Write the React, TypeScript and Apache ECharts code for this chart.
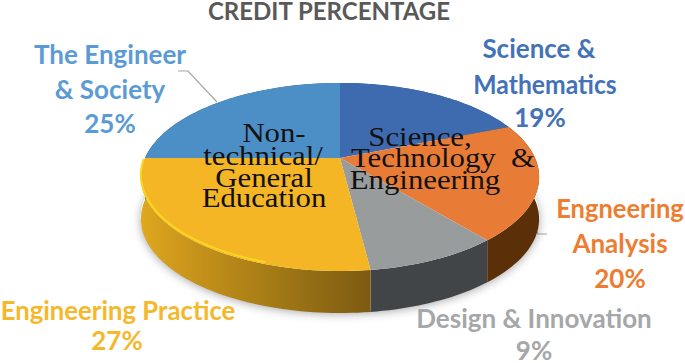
import React, { useEffect, useRef } from "react";
import * as echarts from "echarts";

const titleText = "CREDIT PERCENTAGE";
const categories = ["Science & Mathematics", "Engineering Analysis", "Design & Innovation", "Engineering Practice", "The Engineer & Society"];
const values = [19, 20, 9, 27, 25];
const topColors = ["#3e6bb0", "#e87c37", "#989c9d", "#f4b624", "#4c8ec6"];
const labelColors = ["#4472b8", "#ed7d31", "#a5a7a8", "#f5b82a", "#5b9bd5"];
const labelLines = [
  ["Science &", "Mathematics"],
  ["Engneering", "Analysis"],
  ["Design & Innovation"],
  ["Engineering Practice"],
  ["The Engineer", "& Society"],
];

const CX = 340, CY = 158, A = 195, B = 90.2, K = 0.202, DEPTH = 42;
const total = values.reduce((a, b) => a + b, 0);

function project(frac: number, dy = 0): number[] {
  const t = frac * 2 * Math.PI;
  const X = Math.sin(t), Y = -Math.cos(t);
  const w = 1 - K * Y;
  return [CX + (A * X) / w, CY + (B * Y) / w + dy];
}
function arc(f0: number, f1: number, dy = 0): number[][] {
  const n = Math.max(2, Math.ceil((f1 - f0) * 240));
  const out: number[][] = [];
  for (let i = 0; i <= n; i++) out.push(project(f0 + ((f1 - f0) * i) / n, dy));
  return out;
}
function startOf(i: number) {
  let s = 0;
  for (let j = 0; j < i; j++) s += values[j];
  return s / total;
}
function sideFill(i: number): any {
  if (i === 3)
    return new echarts.graphic.LinearGradient(1, 0, 0, 0, [
      { offset: 0, color: "#7c5a12" },
      { offset: 0.45, color: "#a67c16" },
      { offset: 0.85, color: "#cf991c" },
      { offset: 1, color: "#dfa81f" },
    ]);
  if (i === 2) return "#414548";
  if (i === 1) return "#5b3008";
  return i === 0 ? "#2c4a7c" : "#34628a";
}

const textEl = (text: string, x: number, y: number, font: string, fill: string, scaleX = 1) => ({
  type: "text",
  x,
  y,
  scaleX,
  z: 100,
  style: { text, font, fill, align: "center", verticalAlign: "middle", textAlign: "center", textVerticalAlign: "middle" },
});

const LABEL_FONT = "bold 26px Lato";
const serif = '27px "Liberation Serif"';

export default function App() {
  const ref = useRef<HTMLDivElement>(null);
  useEffect(() => {
    const chart = echarts.init(ref.current!, null, { renderer: "svg", width: 685, height: 363 });
    const pct = (i: number) => `${values[i]}%`;
    const graphic: any[] = [
      textEl(titleText, 329, 10, "bold 24px Lato", "#595959"),
      textEl(labelLines[4][0], 110, 54, LABEL_FONT, labelColors[4]),
      textEl(labelLines[4][1], 110, 89, LABEL_FONT, labelColors[4]),
      textEl(pct(4), 110, 123, LABEL_FONT, labelColors[4]),
      textEl(labelLines[0][0], 539, 48, LABEL_FONT, labelColors[0]),
      textEl(labelLines[0][1], 545, 84, LABEL_FONT, labelColors[0], 0.95),
      textEl(pct(0), 540, 117, LABEL_FONT, labelColors[0]),
      textEl(labelLines[1][0], 620, 208, LABEL_FONT, labelColors[1], 0.98),
      textEl(labelLines[1][1], 620, 243, LABEL_FONT, labelColors[1]),
      textEl(pct(1), 620, 278, LABEL_FONT, labelColors[1]),
      textEl(labelLines[2][0], 534, 318, LABEL_FONT, labelColors[2]),
      textEl(pct(2), 534, 350, LABEL_FONT, labelColors[2]),
      textEl(labelLines[3][0], 118, 310, LABEL_FONT, labelColors[3], 0.99),
      textEl(pct(3), 117, 340, LABEL_FONT, labelColors[3]),
      textEl("Non-", 274, 133, serif, "#111", 1.14),
      textEl("technical/", 263, 156, serif, "#111", 1.14),
      textEl("General", 264, 178, serif, "#111", 1.14),
      textEl("Education", 264, 198, serif, "#111", 1.14),
      textEl("Science,", 420, 137, serif, "#111", 1.14),
      textEl("Technology  &", 443, 158, serif, "#111", 1.14),
      textEl("Engineering", 425, 180, serif, "#111", 1.14),
      { type: "polyline", z: 90, shape: { points: [[178, 71], [188, 71], [217, 102]] }, style: { stroke: "#a6a6a6", lineWidth: 1.2, fill: "none" } },
      { type: "polyline", z: 1, shape: { points: [[534, 226], [538, 234], [547, 234]] }, style: { stroke: "#a6a6a6", lineWidth: 1.2, fill: "none" } },
    ];
    chart.setOption({
      animation: false,
      backgroundColor: "#ffffff",
      graphic,
      series: [
        {
          type: "custom",
          coordinateSystem: "none",
          z: 1,
          data: [total],
          renderItem: () => ({
            type: "polygon",
            shape: { points: arc(0, 1, DEPTH - 2) },
            style: { fill: "#ffffff", shadowBlur: 10, shadowColor: "rgba(0,0,0,0.35)", shadowOffsetY: 3 },
          }),
        },
        {
          type: "custom",
          coordinateSystem: "none",
          z: 2,
          data: values,
          renderItem: (p: any, api: any) => {
            const i = p.dataIndex;
            const f0 = startOf(i), f1 = f0 + api.value(0) / total;
            const topArc = arc(f0, f1);
            const low = arc(f0, f1, DEPTH).reverse();
            return { type: "polygon", shape: { points: topArc.concat(low) }, style: { fill: sideFill(i) } };
          },
        },
        {
          type: "custom",
          coordinateSystem: "none",
          z: 3,
          data: values,
          renderItem: (p: any, api: any) => {
            const i = p.dataIndex;
            const f0 = startOf(i), f1 = f0 + api.value(0) / total;
            const children: any[] = [
              { type: "polygon", shape: { points: [[CX, CY], ...arc(f0, f1)] }, style: { fill: topColors[i] } },
            ];
            if (i === 3) {
              children.push({
                type: "polyline",
                shape: { points: arc(f0 + 0.07, f1 - 0.005, -2) },
                style: { stroke: "#fad51e", lineWidth: 2, fill: "none" },
              });
            }
            return { type: "group", children };
          },
        },
      ],
    });
    return () => chart.dispose();
  }, []);
  return <div ref={ref} style={{ position: "fixed", left: 0, top: 0, width: 685, height: 363 }} aria-label={categories.join(", ")} />;
}
